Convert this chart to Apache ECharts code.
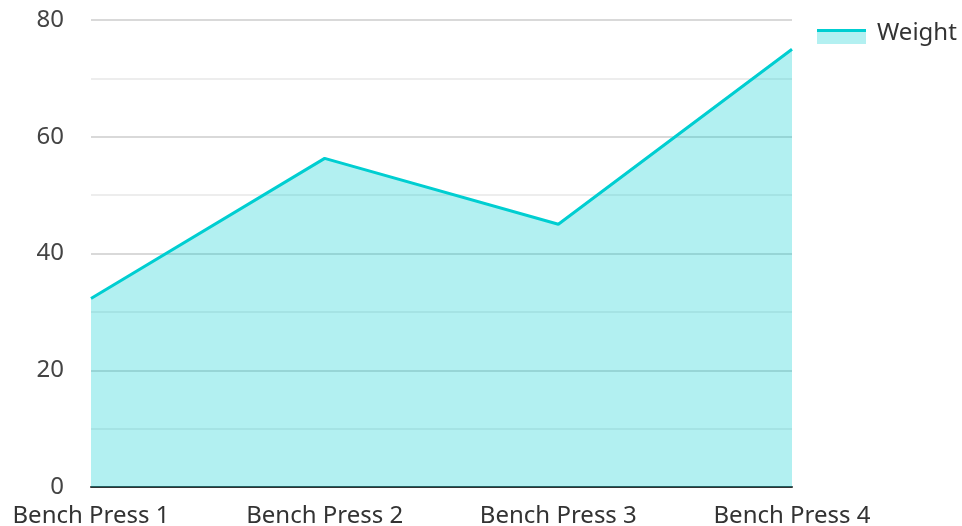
<!DOCTYPE html>
<html lang="en">
<head>
    <meta charset="UTF-8">
    <title>Weight</title>
    <script type="text/javascript" src="https://cdn.jsdelivr.net/npm/echarts@6/dist/echarts.min.js"></script>
    <style>
        body{
            padding: 0px;
            margin: 0px;
            background-color: #ffffff;
        }
        #chart{
            width: 962px;
            height: 526px;
        }
    </style>
</head>
<body>
    <div id="chart"></div>
    <script>
        var categories = ['Bench Press 1', 'Bench Press 2', 'Bench Press 3', 'Bench Press 4'];
        var weights = [32.3, 56.3, 45.0, 75.0];
        var yTicks = [0, 20, 40, 60, 80];

        var lineColor = '#00ced1';
        var areaColor = '#b3f0f1';
        var chart = echarts.init(document.getElementById('chart'));

        chart.setOption({
            animation: false,
            textStyle: { fontFamily: 'Noto Sans' },
            grid: { left: 91, right: 170, top: 20, bottom: 39, outerBoundsMode: 'none', containLabel: false },
            legend: {
                data: ['Weight'],
                left: 812,
                top: 16,
                icon: 'rect',
                itemWidth: 49,
                itemHeight: 15,
                itemGap: 0,
                itemStyle: { opacity: 0 },
                textStyle: { fontSize: 24, color: '#333', padding: [0, 0, 0, 6] }
            },
            // legend swatch: light area with the teal stroke on top
            graphic: [{
                type: 'rect',
                shape: { x: 817, y: 29, width: 49, height: 15 },
                style: { fill: areaColor },
                z: 100
            }, {
                type: 'rect',
                shape: { x: 817, y: 29, width: 49, height: 3 },
                style: { fill: lineColor },
                z: 101
            }],
            xAxis: {
                type: 'category',
                data: categories,
                boundaryGap: false,
                axisTick: { show: false },
                axisLine: { lineStyle: { color: '#333', width: 2 } },
                axisLabel: { fontSize: 24, color: '#333', margin: 17 },
                splitLine: { show: false }
            },
            yAxis: {
                type: 'value',
                min: yTicks[0],
                max: yTicks[yTicks.length - 1],
                interval: 20,
                axisLine: { show: false },
                axisTick: { show: false },
                axisLabel: { fontSize: 24, color: '#444', margin: 27 },
                splitLine: { lineStyle: { color: '#cccccc', width: 1.5 } },
                minorTick: { show: false, splitNumber: 2 },
                minorSplitLine: { show: true, lineStyle: { color: '#e8e8e8', width: 1.5 } }
            },
            series: [{
                name: 'Weight',
                type: 'line',
                data: weights,
                symbol: 'none',
                lineStyle: { color: lineColor, width: 3 },
                itemStyle: { color: lineColor },
                areaStyle: { color: lineColor, opacity: 0.3 }
            }]
        });
    </script>
</body>
</html>
